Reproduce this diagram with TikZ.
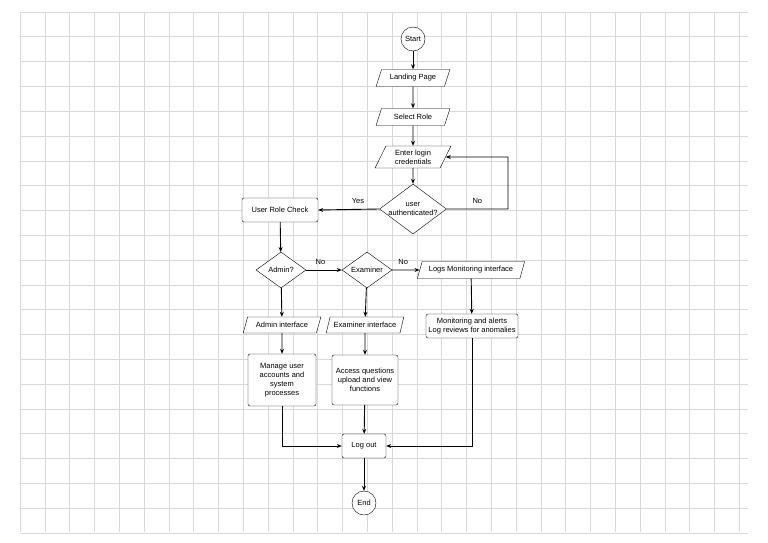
\documentclass[tikz,border=0pt]{standalone}
\usepackage{fontspec}
\setmainfont{Liberation Sans}
\usetikzlibrary{shapes.geometric,arrows.meta}
\begin{document}
\begin{tikzpicture}[x=1pt,y=-1pt,
  every node/.style={font=\fontsize{7.5}{9}\selectfont, align=center},
  box/.style={draw,rounded corners=2pt,fill=white,inner sep=1pt},
  para/.style={draw,trapezium,trapezium stretches=true,trapezium left angle=65,trapezium right angle=115,fill=white,inner sep=1pt,minimum height=17},
  dia/.style={draw,diamond,fill=white,inner sep=0pt,aspect=1.35},
  circ/.style={draw,circle,fill=white,minimum size=24,inner sep=0pt},
  arr/.style={-{Stealth[length=5pt,width=4pt]},line width=0.9pt},
  lbl/.style={font=\fontsize{7.5}{9}\selectfont}]
\useasboundingbox (0,0) rectangle (768,543);
\fill[white] (0,0) rectangle (768,543);
\foreach \x in {20,44.8,...,750} \draw[gray!30,line width=0.6] (\x,12) -- (\x,532);
\foreach \y in {12,36.8,...,535} \draw[gray!30,line width=0.6] (20,\y) -- (748,\y);
\node[circ] (start) at (413,39) {Start};
\node[para,minimum width=74] (land) at (413,78) {Landing Page};
\node[para,minimum width=74] (sel) at (413,117) {Select Role};
\node[para,minimum width=76,minimum height=22] (enter) at (413,157) {Enter login\\credentials};
\node[dia,minimum width=64,minimum height=50] (auth) at (413,209) {user\\authenticated?};
\node[box,minimum width=76,minimum height=24] (urc) at (280,210) {User Role Check};
\node[dia,minimum width=50,minimum height=36] (adm) at (281,270) {Admin?};
\node[dia,minimum width=50,minimum height=36] (exm) at (367,270) {Examiner};
\node[para,minimum width=108] (logs) at (471,270) {Logs Monitoring interface};
\node[para,minimum width=78,minimum height=16] (admi) at (282,325) {Admin interface};
\node[para,minimum width=78,minimum height=16] (exmi) at (365,325) {Examiner interface};
\node[box,minimum width=92,minimum height=24] (mon) at (472,326) {Monitoring and alerts\\Log reviews for anomalies};
\node[box,minimum width=68,minimum height=52] (man) at (282,380) {Manage user\\accounts and\\system\\processes};
\node[box,minimum width=66,minimum height=50] (acc) at (365,380) {Access questions\\upload and view\\functions};
\node[box,minimum width=44,minimum height=24] (out) at (364,446) {Log out};
\node[circ] (end) at (364,503) {End};
\draw[arr] (start) -- (land);
\draw[arr] (land) -- (sel);
\draw[arr] (sel) -- (enter);
\draw[arr] (enter) -- (auth);
\draw[arr] (auth.west) -- node[lbl,above,pos=0.35,yshift=2] {Yes} (urc.east);
\draw[arr] (auth.east) -- node[lbl,above,pos=0.5,yshift=2] {No} (508,209) -- (508,157) -- (enter.east);
\draw[arr] (urc) -- (adm);
\draw[arr] (adm.east) -- node[lbl,above,pos=0.4,yshift=2] {No} (exm.west);
\draw[arr] (exm.east) -- node[lbl,above,pos=0.4,yshift=2] {No} (logs.west);
\draw[arr] (adm) -- (admi);
\draw[arr] (exm) -- (exmi);
\draw[arr] (logs) -- (mon);
\draw[arr] (admi) -- (man);
\draw[arr] (exmi) -- (acc);
\draw[arr] (man.south) |- (out.west);
\draw[arr] (acc) -- (out);
\draw[arr] (mon.south) |- (out.east);
\draw[arr] (out) -- (end);
\end{tikzpicture}
\end{document}
